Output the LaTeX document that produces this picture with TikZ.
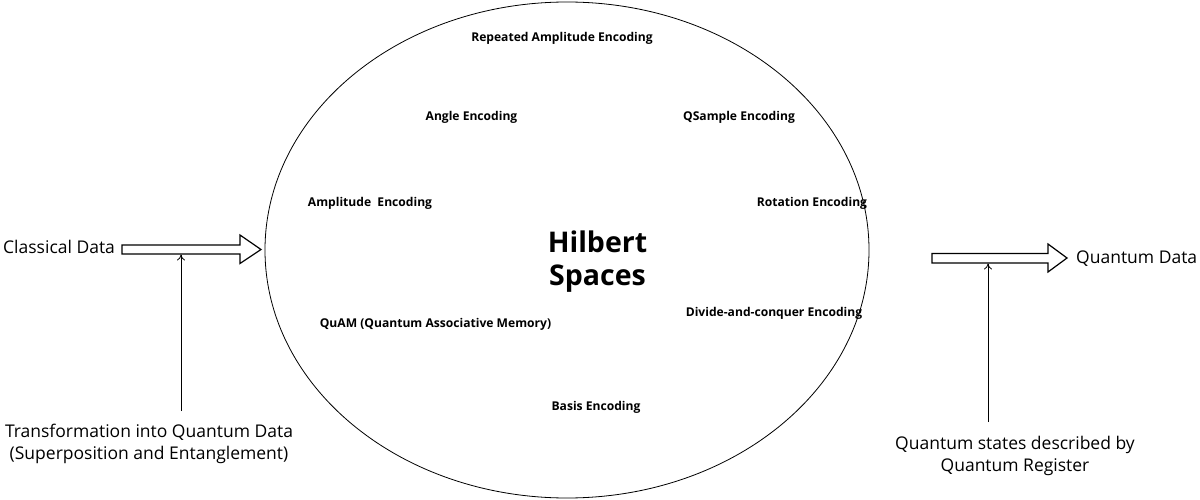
\documentclass[tikz,border=0pt]{standalone}
\usepackage{fontspec}
\setmainfont{Open Sans}
\usetikzlibrary{arrows.meta}

\begin{document}
\begin{tikzpicture}[x=1pt,y=-1pt,
	enc/.style={font=\fontsize{12.1}{14}\selectfont\bfseries, inner sep=0pt, anchor=base},
	side/.style={font=\fontsize{17.5}{22}\selectfont, align=center, inner sep=0pt},
	block/.style={line width=1.2pt, line join=miter},
	thin arrow/.style={line width=0.8pt,-{To[length=6pt,width=8pt]}}]
	\useasboundingbox (0,0) rectangle (1200,500);

	% the space
	\draw[line width=0.8pt] (567,250) ellipse [x radius=302, y radius=248];
	\node[font=\fontsize{28.5}{33}\selectfont\bfseries, align=center, inner sep=0pt] (hilbert) at (597.5,262) {Hilbert\\Spaces};

	% encodings (placed on their baselines)
	\node[enc] (rep)  at (562,41.7)  {Repeated Amplitude Encoding};
	\node[enc] (ang)  at (471.5,120.7) {Angle Encoding};
	\node[enc] (qsam) at (739,120.7) {QSample Encoding};
	\node[enc] (amp)  at (370,206) {Amplitude\ \ Encoding};
	\node[enc] (rot)  at (812,206) {Rotation Encoding};
	\node[enc] (div)  at (774,316.5) {Divide-and-conquer Encoding};
	\node[enc] (quam) at (435.5,327) {QuAM (Quantum Associative Memory)};
	\node[enc] (bas)  at (596,410.7) {Basis Encoding};

	% classical side
	\node[side, anchor=west] (cdata) at (3,247) {Classical Data};
	\draw[block] (122,245) -- (240,245) -- (240,235) -- (261,249.5)
		-- (240,263.5) -- (240,254) -- (122,254) -- cycle;
	\coordinate (cin) at (181,254.5);
	\node[side] (trans) at (149,444) {Transformation into Quantum Data\\(Superposition and Entanglement)};
	\draw[thin arrow] ([yshift=13pt]trans.north -| cin) -- (cin);

	% quantum side
	\node[side, anchor=west] (qdata) at (1076,259) {Quantum Data};
	\draw[block] (932,253.5) -- (1048,253.5) -- (1048,244) -- (1067,258)
		-- (1048,272) -- (1048,263) -- (932,263) -- cycle;
	\coordinate (qout) at (988,263.5);
	\node[side] (qstates) at (1015,456) {Quantum states described by\\Quantum Register};
	\draw[thin arrow] ([yshift=14pt]qstates.north -| qout) -- (qout);
\end{tikzpicture}
\end{document}
